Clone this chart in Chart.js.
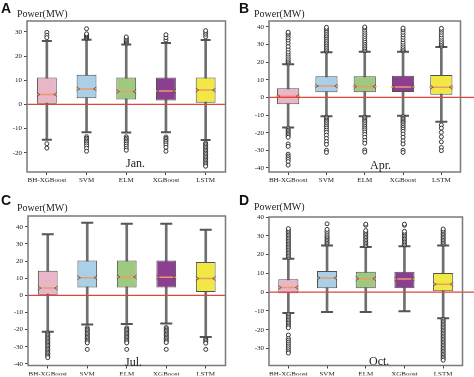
<!DOCTYPE html>
<html>
<head>
<meta charset="utf-8">
<script src="https://cdn.jsdelivr.net/npm/chart.js@4"></script>
<style>
  body { margin: 0; background: #fff; }
  #wrap { position: relative; width: 474px; height: 377px; overflow: hidden; }
  canvas { position: absolute; }
  .lbl { position: absolute; font-family: "Liberation Sans", Arial, sans-serif; font-weight: bold; font-size: 14px; color: #111; line-height: 1; }
  .ttl { position: absolute; font-family: "Liberation Serif", "Times New Roman", serif; font-size: 10px; color: #222; line-height: 1; white-space: nowrap; }
  .mon { position: absolute; font-family: "Liberation Serif", "Times New Roman", serif; font-size: 12px; color: #222; line-height: 1; white-space: nowrap; }
</style>
</head>
<body>
<div id="wrap">
  <canvas id="cA" width="237" height="188" style="left:0;top:0"></canvas>
  <canvas id="cB" width="237" height="188" style="left:237px;top:0"></canvas>
  <canvas id="cC" width="237" height="189" style="left:0;top:188px"></canvas>
  <canvas id="cD" width="237" height="189" style="left:237px;top:188px"></canvas>

  <div class="lbl" style="left:1px;top:1px">A</div>
  <div class="lbl" style="left:239px;top:1px">B</div>
  <div class="lbl" style="left:1px;top:193px">C</div>
  <div class="lbl" style="left:239px;top:193px">D</div>

  <div class="ttl" style="left:17px;top:9px">Power(MW)</div>
  <div class="ttl" style="left:254px;top:9px">Power(MW)</div>
  <div class="ttl" style="left:17px;top:203px">Power(MW)</div>
  <div class="ttl" style="left:254px;top:202px">Power(MW)</div>

  <div class="mon" style="left:126px;top:157px">Jan.</div>
  <div class="mon" style="left:370px;top:159px">Apr.</div>
  <div class="mon" style="left:125px;top:356px">Jul.</div>
  <div class="mon" style="left:369px;top:355px">Oct.</div>
</div>
<script>
const cats = ['BH-XGBoost', 'SVM', 'ELM', 'XGBoost', 'LSTM'];
const boxColors = ['#e8b6c6', '#a9d0e6', '#9fc97f', '#8c3f90', '#f1e845'];

// Jan.
const janLow  = [-14.7, -11.5, -11.7, -11.5, -14.8];
const janQ1   = [0.2, 2.5, 2.0, 1.6, 0.7];
const janMed  = [4.1, 6.4, 5.3, 5.5, 5.9];
const janQ3   = [11.1, 12.3, 11.1, 11.1, 11.1];
const janHigh = [26.2, 26.7, 24.8, 25.4, 26.6];
const janOut = [
  [29.8, 28.6, 27.6, -16.3, -18.1],
  [27.2, 27.6, 28.0, 28.4, 28.8, 29.2, 31.3, -13.4, -14.0, -14.6, -15.2, -15.8, -16.4, -17.2, -18.2, -19.4],
  [25.4, 25.9, 26.4, 26.9, 27.4, 27.9, -13.4, -14.0, -14.6, -15.2, -15.8, -16.5, -17.3, -18.2, -19.0],
  [26.6, 27.6, 28.8, -13.5, -14.1, -14.7, -15.3, -16.0, -16.8, -17.8, -19.4],
  [28.0, 29.0, 29.8, 30.5, -16.0, -16.6, -17.2, -17.8, -18.4, -19.0, -19.6, -20.2, -20.8, -21.4, -22.0, -22.6, -23.2, -23.8, -24.4, -25.0, -25.6]
];
const janTicks = [-20, -10, 0, 10, 20, 30];

// Apr.
const aprLow  = [-17.0, -10.7, -10.7, -10.4, -13.8];
const aprQ1   = [-3.9, 3.0, 3.0, 3.1, 1.6];
const aprMed  = [0.7, 6.5, 6.2, 6.0, 5.8];
const aprQ3   = [5.2, 12.0, 12.0, 12.3, 12.8];
const aprHigh = [18.9, 25.6, 26.0, 26.0, 28.6];
const aprOut = [
  [19.6, 20.4, 21.2, 22.2, 23.4, 24.6, 25.8, 27.4, 29.0, 31.0, 32.6, 34.0, 35.4, 36.4, 37.0,
   -17.8, -18.6, -19.4, -20.2, -21.0, -21.8, -22.6, -26.4, -27.8, -32.2, -33.2, -34.2, -35.2, -36.4, -38.4],
  [26.4, 27.2, 28.0, 29.0, 30.0, 31.0, 32.0, 33.0, 34.0, 35.0, 36.0, 37.0, 38.0, 39.0, 39.8,
   -11.2, -12.0, -12.8, -13.6, -14.4, -15.4, -16.4, -17.4, -18.6, -19.8, -21.4, -23.2, -25.0, -26.6, -30.0, -31.2],
  [26.6, 27.4, 28.2, 29.2, 30.2, 31.2, 32.2, 33.4, 34.6, 35.8, 37.0, 38.2, 39.4, 40.0,
   -11.2, -12.0, -12.8, -13.6, -14.4, -15.4, -16.4, -17.4, -18.4, -19.6, -21.0, -22.6, -24.4, -26.0, -29.8, -31.0],
  [26.4, 27.2, 28.0, 29.0, 30.2, 31.4, 32.8, 34.2, 35.6, 37.0, 38.4, 39.4,
   -11.0, -11.8, -12.6, -13.4, -14.2, -15.0, -16.0, -17.0, -18.0, -19.2, -20.8, -22.6, -24.6, -26.4, -30.0, -31.2],
  [29.2, 30.0, 30.8, 31.8, 33.0, 34.2, 35.6, 37.0, 38.2, 39.2,
   -15.6, -17.4, -19.8, -22.3, -25.2, -28.4, -30.2]
];
const aprTicks = [-40, -30, -20, -10, 0, 10, 20, 30, 40];

// Jul.
const julLow  = [-21.3, -17.0, -16.7, -16.5, -24.3];
const julQ1   = [0.0, 4.6, 4.6, 4.6, 1.9];
const julMed  = [4.2, 10.3, 10.7, 10.5, 9.8];
const julQ3   = [14.4, 20.3, 20.3, 20.3, 19.5];
const julHigh = [35.6, 42.3, 41.8, 41.8, 38.3];
const julOut = [
  [-22.0, -22.8, -23.6, -24.4, -25.2, -26.0, -26.8, -27.6, -28.4, -29.2, -30.0, -30.8, -31.6, -32.4, -33.2, -34.0, -34.8, -35.6, -36.4],
  [-19.0, -19.8, -20.6, -21.4, -22.2, -23.0, -23.8, -24.6, -25.4, -26.2, -27.0, -27.8, -31.6],
  [-19.0, -19.8, -20.6, -21.4, -22.2, -23.0, -23.8, -24.6, -25.4, -26.2, -27.0, -27.8, -31.6],
  [-18.8, -19.6, -20.4, -21.2, -22.0, -22.8, -23.6, -24.4, -25.2, -26.0, -26.8, -27.6, -31.6],
  [-25.6, -26.4, -27.2, -28.0, -31.6]
];
const julTicks = [-40, -30, -20, -10, 0, 10, 20, 30, 40];

// Oct.
const octLow  = [-11.1, -10.6, -10.6, -10.2, -13.9];
const octQ1   = [-0.5, 2.1, 2.1, 2.1, 0.5];
const octMed  = [2.5, 7.6, 7.2, 7.0, 4.2];
const octQ3   = [6.9, 11.3, 10.9, 10.9, 10.2];
const octHigh = [17.8, 24.9, 24.0, 24.5, 24.9];
const octOut = [
  [18.6, 19.4, 20.2, 21.0, 21.8, 22.6, 23.4, 24.2, 25.0, 25.8, 26.6, 27.4, 28.2, 29.0, 29.8, 30.6, 31.4, 32.2, 33.0, 33.8,
   -11.8, -12.6, -13.4, -14.2, -15.0, -15.8, -16.6, -17.4, -18.2, -19.0, -22.8, -24.6, -25.6, -26.6, -27.6, -28.6, -29.6, -30.6, -31.6, -32.4],
  [25.6, 26.4, 27.2, 28.0, 28.8, 29.6, 30.4, 31.4, 32.4, 33.4, 36.4],
  [24.8, 25.6, 26.4, 27.2, 28.0, 28.8, 29.6, 30.4, 31.2, 32.0, 32.8, 35.6, 36.2],
  [25.2, 26.0, 26.8, 27.6, 28.4, 29.2, 30.0, 30.8, 31.6, 32.4, 35.6, 36.2],
  [25.6, 26.4, 27.2, 28.0, 28.8, 29.6, 30.4, 31.2, 32.0, 32.8, 33.6,
   -14.6, -15.4, -16.2, -17.0, -17.8, -18.6, -19.4, -20.2, -21.0, -21.8, -22.6, -23.4, -24.2, -25.0, -25.8, -26.6, -27.4, -28.2, -29.0, -29.8, -30.6, -31.4, -32.2, -33.0, -33.8, -34.6, -35.4, -36.2]
];
const octTicks = [-30, -20, -10, 0, 10, 20, 30, 40];

// frame round the plot + red zero line + small notches at the medians
const boxExtras = {
  id: 'boxExtras',
  afterDatasetsDraw(chart, args, opts) {
    const ctx = chart.ctx, a = chart.chartArea, y = chart.scales.y;
    const meta = chart.getDatasetMeta(1);
    ctx.save();
    ctx.strokeStyle = '#444';
    ctx.lineWidth = 0.7;
    meta.data.forEach((bar, i) => {
      const yp = y.getPixelForValue(opts.med[i]);
      const l = bar.x - bar.width / 2, r = bar.x + bar.width / 2;
      ctx.beginPath();
      ctx.moveTo(l, yp - 2); ctx.lineTo(l + 3, yp); ctx.lineTo(l, yp + 2);
      ctx.moveTo(r, yp - 2); ctx.lineTo(r - 3, yp); ctx.lineTo(r, yp + 2);
      ctx.stroke();
    });
    const y0 = y.getPixelForValue(0);
    ctx.strokeStyle = '#e0453c';
    ctx.lineWidth = 1.2;
    ctx.beginPath();
    ctx.moveTo(a.left, y0);
    ctx.lineTo(opts.lineToEdge ? chart.width : a.right, y0);
    ctx.stroke();
    ctx.strokeStyle = '#7a7a7a';
    ctx.lineWidth = 1.5;
    ctx.strokeRect(a.left, a.top, a.right - a.left, a.bottom - a.top);
    ctx.restore();
  }
};

function makePanel(id, d) {
  const tickFont = { family: 'Liberation Serif', size: 7 };
  new Chart(document.getElementById(id), {
    data: {
      labels: cats,
      datasets: [
        {
          type: 'bar',
          data: d.low.map((v, i) => [v, d.high[i]]),
          backgroundColor: '#6f6f6f',
          barThickness: 2,
          grouped: false,
          order: 5
        },
        {
          type: 'bar',
          data: d.q1.map((v, i) => [v, d.q3[i]]),
          backgroundColor: boxColors,
          borderColor: '#505050',
          borderWidth: 1,
          borderSkipped: false,
          barPercentage: d.boxPct,
          categoryPercentage: 1,
          grouped: false,
          order: 4
        },
        {
          type: 'line',
          data: cats.flatMap((c, i) => [{ x: c, y: d.low[i] }, { x: c, y: d.high[i] }]),
          showLine: false,
          pointStyle: 'line',
          pointRadius: d.cap,
          borderColor: '#555',
          borderWidth: 2,
          order: 3
        },
        {
          type: 'line',
          data: cats.map((c, i) => ({ x: c, y: d.med[i] })),
          showLine: false,
          pointStyle: 'line',
          pointRadius: d.medR,
          borderColor: '#ec9a6c',
          borderWidth: 1.5,
          order: 2
        },
        {
          type: 'line',
          data: cats.flatMap((c, i) => d.out[i].map(v => ({ x: c, y: v }))),
          showLine: false,
          pointStyle: 'circle',
          pointRadius: 2,
          borderColor: '#222',
          borderWidth: 0.9,
          backgroundColor: '#fff',
          order: 1
        }
      ]
    },
    options: {
      responsive: false,
      animation: false,
      layout: { padding: { top: d.top, right: d.right, left: 0, bottom: 0 } },
      plugins: {
        legend: { display: false },
        tooltip: { enabled: false },
        boxExtras: { med: d.med, lineToEdge: d.edge }
      },
      scales: {
        x: {
          type: 'category',
          offset: true,
          grid: { display: true, drawOnChartArea: false, offset: false, tickLength: 3, tickColor: '#444' },
          border: { display: false },
          ticks: { font: tickFont, color: '#222', padding: 1, maxRotation: 0, autoSkip: false },
          afterFit: s => { s.height = d.xh; }
        },
        y: {
          min: d.min,
          max: d.max,
          grid: { display: true, drawOnChartArea: false, tickLength: 3, tickColor: '#444' },
          border: { display: false },
          ticks: { font: tickFont, color: '#222', padding: 2 },
          afterBuildTicks: s => { s.ticks = d.ticks.map(v => ({ value: v })); },
          afterFit: s => { s.width = d.yw; }
        }
      }
    },
    plugins: [boxExtras]
  });
}

makePanel('cA', { low: janLow, q1: janQ1, med: janMed, q3: janQ3, high: janHigh, out: janOut, ticks: janTicks,
  min: -28, max: 34.5, top: 21, right: 6, yw: 27, xh: 16, boxPct: 0.5, cap: 5, medR: 10, edge: false });
makePanel('cB', { low: aprLow, q1: aprQ1, med: aprMed, q3: aprQ3, high: aprHigh, out: aprOut, ticks: aprTicks,
  min: -42.3, max: 43.4, top: 21, right: 2, yw: 32, xh: 16, boxPct: 0.58, cap: 6, medR: 12, edge: true });
makePanel('cC', { low: julLow, q1: julQ1, med: julMed, q3: julQ3, high: julHigh, out: julOut, ticks: julTicks,
  min: -41, max: 46.3, top: 28, right: 6, yw: 28, xh: 10, boxPct: 0.5, cap: 6, medR: 10, edge: false });
makePanel('cD', { low: octLow, q1: octQ1, med: octMed, q3: octQ3, high: octHigh, out: octOut, ticks: octTicks,
  min: -39, max: 40, top: 29, right: 2, yw: 32, xh: 10, boxPct: 0.52, cap: 6, medR: 10, edge: true });
</script>
</body>
</html>
